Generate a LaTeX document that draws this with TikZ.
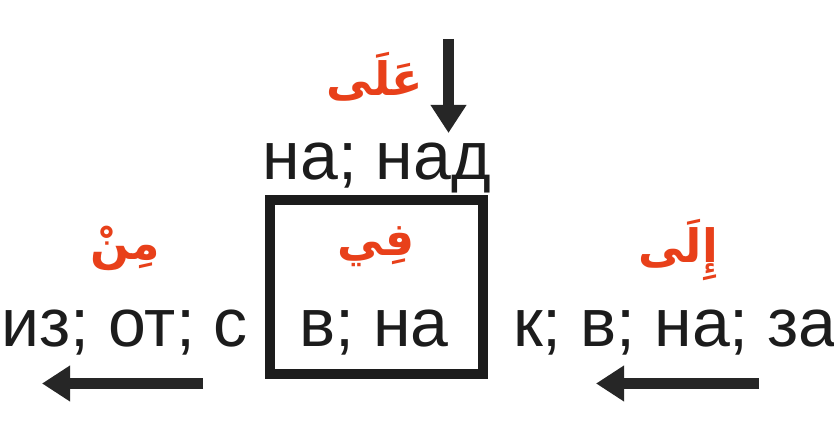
\documentclass[tikz,border=0pt]{standalone}
\usepackage{fontspec}
\setmainfont{Liberation Sans}
\newfontfamily\arabicfont[Script=Arabic]{DejaVu Sans}
\TeXXeTstate=1
\usetikzlibrary{arrows.meta}
\definecolor{arred}{RGB}{232,64,26}
\definecolor{ink}{RGB}{28,28,28}
\definecolor{arrowgray}{RGB}{38,38,38}
\begin{document}
\begin{tikzpicture}[x=1pt,y=1pt,
  rus/.style={inner sep=0pt, text=ink, font=\fontsize{68}{80}\selectfont},
  arab/.style={inner sep=0pt, text=arred, font=\arabicfont\bfseries\fontsize{46}{60}\selectfont},
  bigarrow/.style={draw=arrowgray, line width=11pt, -{Triangle[length=28pt,width=34pt]}},
  framebox/.style={draw=ink, line width=10pt, minimum width=213pt, minimum height=174pt, inner sep=0pt}
]
\fill[white] (0,0) rectangle (834,438);
\useasboundingbox (0,0) rectangle (834,438);

% central box
\node[framebox] (box) at (376.5,151) {};

% texts
\node[rus, anchor=base] (top) at (377,258) {на; над};
\node[rus, anchor=base] (inbox) at (374,91) {в; на};
\node[rus, anchor=base east] (left) at (248,91) {из; от; с};
\node[rus, anchor=base west] (right) at (513,91) {к; в; на; за};

% arabic labels
\node[arab] (ala) at (375,361) {\beginR عَلَى\endR};
\node[arab] (fi) at (376,191) {\beginR فِي\endR};
\node[arab] (min) at (125,190) {\beginR مِنْ\endR};
\node[arab] (ila) at (678,188) {\beginR إِلَى\endR};

% arrows
\coordinate (dtop) at (448.5,399);
\coordinate (dtip) at (448.5,305);
\coordinate (lstart) at (203,54.5);
\coordinate (lend) at (42,54.5);
\coordinate (rstart) at (759,54.5);
\coordinate (rend) at (596,54.5);
\draw[bigarrow] (dtop) -- (dtip);
\draw[bigarrow] (lstart) -- (lend);
\draw[bigarrow] (rstart) -- (rend);
\end{tikzpicture}
\end{document}
